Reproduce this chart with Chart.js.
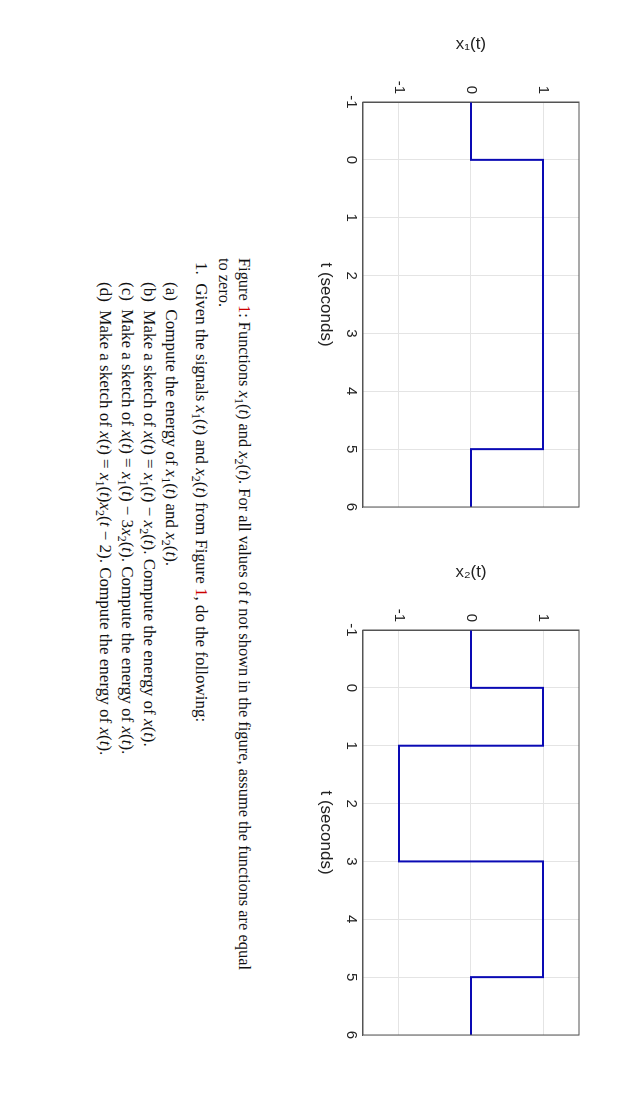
<!DOCTYPE html>
<html><head><meta charset="utf-8">
<script src="https://cdn.jsdelivr.net/npm/chart.js@4/dist/chart.umd.min.js"></script>
<style>
body{margin:0;background:#fff;width:628px;height:1096px;overflow:hidden}
#page{position:absolute;left:0;top:0;width:1096px;height:628px;transform-origin:0 0;transform:translate(628px,0) rotate(90deg);font-family:"Liberation Serif","DejaVu Serif",serif;color:#111}
.c{position:absolute;top:32px;width:487px;height:283px}
.t{position:absolute;font-size:17px;line-height:20px;white-space:nowrap;font-family:"Liberation Serif",serif}
sub{font-size:12px;line-height:0}
</style></head><body>
<div id="page">
<div class="c" style="left:30px"><canvas id="c1"></canvas></div>
<div class="c" style="left:558px"><canvas id="c2"></canvas></div>
<div class="t" style="left:258px;top:374px;width:712px;white-space:normal;text-align:justify;font-size:16.4px">Figure <span style="color:#c00">1</span>: Functions <i>x</i><sub>1</sub>(<i>t</i>) and <i>x</i><sub>2</sub>(<i>t</i>). For all values of <i>t</i> not shown in the figure, assume the functions are equal to zero.</div>
<div class="t" style="left:262px;top:417px">1. &nbsp;Given the signals <i>x</i><sub>1</sub>(<i>t</i>) and <i>x</i><sub>2</sub>(<i>t</i>) from Figure <span style="color:#c00">1</span>, do the following:</div>
<div class="t" style="left:282px;top:447px">(a) &nbsp;Compute the energy of <i>x</i><sub>1</sub>(<i>t</i>) and <i>x</i><sub>2</sub>(<i>t</i>).</div>
<div class="t" style="left:282px;top:469px">(b) &nbsp;Make a sketch of <i>x</i>(<i>t</i>) = <i>x</i><sub>1</sub>(<i>t</i>) − <i>x</i><sub>2</sub>(<i>t</i>). Compute the energy of <i>x</i>(<i>t</i>).</div>
<div class="t" style="left:282px;top:491px">(c) &nbsp;Make a sketch of <i>x</i>(<i>t</i>) = <i>x</i><sub>1</sub>(<i>t</i>) − 3<i>x</i><sub>2</sub>(<i>t</i>). Compute the energy of <i>x</i>(<i>t</i>).</div>
<div class="t" style="left:282px;top:513px">(d) &nbsp;Make a sketch of <i>x</i>(<i>t</i>) = <i>x</i><sub>1</sub>(<i>t</i>)<i>x</i><sub>2</sub>(<i>t</i> − 2). Compute the energy of <i>x</i>(<i>t</i>).</div>
</div>
<script>
// corner points of the two step signals
var t1 = [-1, 0, 0, 5, 5, 6];
var x1 = [0, 0, 1, 1, 0, 0];
var t2 = [-1, 0, 0, 1, 1, 3, 3, 5, 5, 6];
var x2 = [0, 0, 1, 1, -1, -1, 1, 1, 0, 0];
var tTicks = [-1, 0, 1, 2, 3, 4, 5, 6];
var yTicks = [-1, 0, 1];

var boxPlugin = {
  id: 'box',
  afterDraw: function(c){
    var a = c.chartArea, g = c.ctx;
    g.save(); g.strokeStyle = '#555'; g.lineWidth = 1;
    g.strokeRect(a.left, a.top, a.right - a.left, a.bottom - a.top);
    g.restore();
  }
};

function make_chart(id, ts, xs, label){
  var pts = ts.map(function(t, i){ return {x: t, y: xs[i]}; });
  new Chart(document.getElementById(id), {
    type: 'line',
    data: {datasets: [{data: pts, borderColor: '#0a0ab4', borderWidth: 2, pointRadius: 0, fill: false, tension: 0}]},
    plugins: [boxPlugin],
    options: {
      animation: false, responsive: true, maintainAspectRatio: false,
      layout: {padding: {top: 2, right: 10}},
      plugins: {legend: {display: false}, tooltip: {enabled: false}},
      scales: {
        x: {type: 'linear', min: -1, max: 6,
          afterBuildTicks: function(s){ s.ticks = tTicks.map(function(v){ return {value: v}; }); },
          afterFit: function(s){ s.height = 50; },
          grid: {color: '#e4e4e4', tickLength: 0}, border: {color: '#555'},
          ticks: {color: '#222', font: {family: 'Liberation Sans', size: 15}, maxRotation: 0},
          title: {display: true, text: 't (seconds)', color: '#222', font: {family: 'Liberation Sans', size: 17}, padding: 2}},
        y: {min: -1.5, max: 1.5,
          afterBuildTicks: function(s){ s.ticks = yTicks.map(function(v){ return {value: v}; }); },
          afterFit: function(s){ s.width = 72; },
          grid: {color: '#e4e4e4', tickLength: 0}, border: {color: '#555'},
          ticks: {color: '#222', font: {family: 'Liberation Sans', size: 15}, padding: 8},
          title: {display: true, text: label, color: '#222', font: {family: 'Liberation Sans', size: 17}}}
      }
    }
  });
}
make_chart('c1', t1, x1, 'x\u2081(t)');
make_chart('c2', t2, x2, 'x\u2082(t)');
</script>
</body></html>
